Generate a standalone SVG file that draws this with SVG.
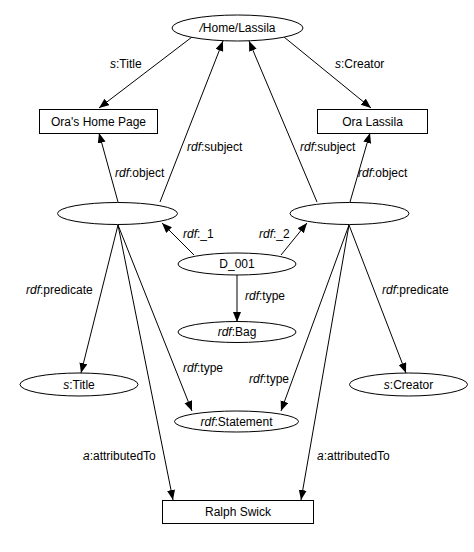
<svg xmlns="http://www.w3.org/2000/svg" width="474" height="552" viewBox="0 0 474 552">
<style>
.n{fill:#fff;stroke:#000;stroke-width:1}
.e{stroke:#000;stroke-width:1;fill:none;marker-end:url(#ah)}
text{font-family:"Liberation Sans",Arial,sans-serif;font-size:12px;fill:#000}
.c{text-anchor:middle}
.i{font-style:italic}
</style>
<defs>
<marker id="ah" markerUnits="userSpaceOnUse" markerWidth="11" markerHeight="9" refX="10" refY="4" orient="auto">
<path d="M0,0 L10,4 L0,8 z" fill="#000"/>
</marker>
</defs>
<rect width="474" height="552" fill="#fff"/>
<g id="connectors">
<line class="e" x1="192" y1="37" x2="99" y2="108"/>
<line class="e" x1="284" y1="37" x2="371" y2="108"/>
<line class="e" x1="118" y1="202" x2="99" y2="133"/>
<line class="e" x1="160" y1="202" x2="223" y2="41"/>
<line class="e" x1="317" y1="202" x2="249" y2="41"/>
<line class="e" x1="350" y1="202" x2="370" y2="133"/>
<line class="e" x1="194" y1="255" x2="162" y2="223"/>
<line class="e" x1="281" y1="255" x2="307" y2="223"/>
<line class="e" x1="237" y1="275" x2="237" y2="322"/>
<line class="e" x1="118" y1="225" x2="81" y2="373"/>
<line class="e" x1="118" y1="225" x2="192" y2="411"/>
<line class="e" x1="118" y1="225" x2="173" y2="500"/>
<line class="e" x1="349" y1="225" x2="406" y2="373"/>
<line class="e" x1="349" y1="225" x2="281" y2="411"/>
<line class="e" x1="349" y1="225" x2="301" y2="500"/>
</g>
<g id="labels">
<text x="110" y="68"><tspan class="i">s</tspan>:Title</text>
<text x="335" y="68"><tspan class="i">s</tspan>:Creator</text>
<text x="187" y="151"><tspan class="i">rdf</tspan>:subject</text>
<text x="300" y="151"><tspan class="i">rdf</tspan>:subject</text>
<text x="115" y="177"><tspan class="i">rdf</tspan>:object</text>
<text x="358" y="177"><tspan class="i">rdf</tspan>:object</text>
<text x="183" y="238"><tspan class="i">rdf</tspan>:_1</text>
<text x="259" y="238"><tspan class="i">rdf</tspan>:_2</text>
<text x="245" y="300"><tspan class="i">rdf</tspan>:type</text>
<text x="26" y="294"><tspan class="i">rdf</tspan>:predicate</text>
<text x="382" y="294"><tspan class="i">rdf</tspan>:predicate</text>
<text x="183" y="372"><tspan class="i">rdf</tspan>:type</text>
<text x="249" y="383"><tspan class="i">rdf</tspan>:type</text>
<text x="83" y="460"><tspan class="i">a</tspan>:attributedTo</text>
<text x="317" y="460"><tspan class="i">a</tspan>:attributedTo</text>
</g>
<g id="home">
<ellipse class="n" cx="237.5" cy="28" rx="65.5" ry="13"/>
<text class="c" x="237.5" y="32"><tspan class="i">/</tspan>Home/Lassila</text>
</g>
<g id="orashomepage">
<rect class="n" x="39.5" y="109.5" width="118" height="24"/>
<text class="c" x="98.5" y="126">Ora's Home Page</text>
</g>
<g id="oralassila">
<rect class="n" x="317.5" y="109.5" width="110" height="24"/>
<text class="c" x="372.5" y="126">Ora Lassila</text>
</g>
<g id="stmt1">
<ellipse class="n" cx="117.5" cy="213.5" rx="60" ry="11"/>
</g>
<g id="stmt2">
<ellipse class="n" cx="349.5" cy="213.5" rx="59.5" ry="11"/>
</g>
<g id="d001">
<ellipse class="n" cx="237" cy="264" rx="59" ry="11"/>
<text class="c" x="237" y="268">D_001</text>
</g>
<g id="bag">
<ellipse class="n" cx="237" cy="332" rx="59" ry="10.5"/>
<text class="c" x="237" y="336"><tspan class="i">rdf</tspan>:Bag</text>
</g>
<g id="stitle">
<ellipse class="n" cx="79" cy="384.5" rx="59" ry="11.5"/>
<text class="c" x="79" y="389"><tspan class="i">s</tspan>:Title</text>
</g>
<g id="screator">
<ellipse class="n" cx="408.5" cy="384.5" rx="59" ry="11.5"/>
<text class="c" x="408.5" y="389"><tspan class="i">s</tspan>:Creator</text>
</g>
<g id="statement">
<ellipse class="n" cx="236.5" cy="421.5" rx="62" ry="10.5"/>
<text class="c" x="236.5" y="426"><tspan class="i">rdf</tspan>:Statement</text>
</g>
<g id="ralph">
<rect class="n" x="162.5" y="500.5" width="151" height="23"/>
<text class="c" x="238" y="516">Ralph Swick</text>
</g>
</svg>
